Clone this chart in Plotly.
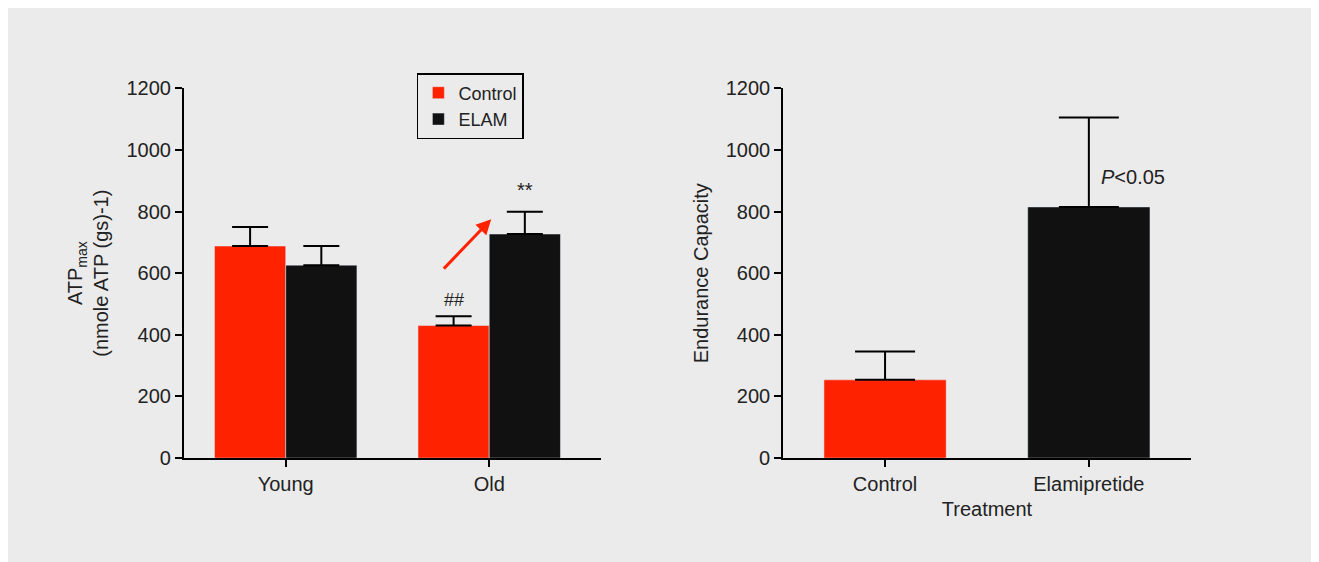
import plotly.graph_objects as go

groups = ["Young", "Old"]
control_atp = [688, 430]
control_atp_err = [62, 30]
elam_atp = [626, 727]
elam_atp_err = [62, 72]

treat = ["Control", "Elamipretide"]
endurance = [254, 815]
endurance_err = [92, 290]
colors = ["#ff2200", "#111111"]

fig = go.Figure()
xs = list(range(len(groups)))
w = 0.35
fig.add_bar(x=[i - w/2 for i in xs], y=control_atp, width=w, name="Control", marker_color=colors[0],
            error_y=dict(type="data", array=control_atp_err, arrayminus=[0]*2, symmetric=False,
                         color="black", thickness=2, width=18),
            xaxis="x", yaxis="y")
fig.add_bar(x=[i + w/2 for i in xs], y=elam_atp, width=w, name="ELAM", marker_color=colors[1],
            error_y=dict(type="data", array=elam_atp_err, arrayminus=[0]*2, symmetric=False,
                         color="black", thickness=2, width=18),
            xaxis="x", yaxis="y")
fig.add_bar(x=list(range(len(treat))), y=endurance, width=0.6, marker_color=colors,
            showlegend=False,
            error_y=dict(type="data", array=endurance_err, arrayminus=[0]*2, symmetric=False,
                         color="black", thickness=2, width=30),
            xaxis="x2", yaxis="y2")

font = dict(family="Liberation Sans, Arial", size=20, color="#222")
ax = dict(showline=True, linecolor="black", linewidth=2, ticks="outside", tickwidth=2,
          ticklen=7, tickcolor="black", showgrid=False, zeroline=False, tickfont=font)
ydom = [0.1868, 0.8718]
fig.update_layout(
    width=1319, height=562, paper_bgcolor="#ebebeb", plot_bgcolor="#ebebeb",
    margin=dict(l=0, r=0, t=0, b=0), barmode="overlay", font=font,
    xaxis=dict(ax, domain=[0.1334, 0.4497], range=[-0.5, 1.55], tickvals=xs, ticktext=groups),
    yaxis=dict(ax, domain=ydom, range=[0, 1200], dtick=200,
               title=dict(text="ATP<sub>max</sub><br>(nmole ATP (gs)-1)", font=font, standoff=12)),
    xaxis2=dict(ax, domain=[0.5877, 0.8967], range=[-0.5, 1.5], tickvals=[0, 1], ticktext=treat,
                title=dict(text="Treatment", font=font, standoff=8)),
    yaxis2=dict(ax, domain=ydom, range=[0, 1200], dtick=200, anchor="x2",
                title=dict(text="Endurance Capacity", font=font, standoff=12)),
    legend=dict(x=0.31, y=0.90, xanchor="left", yanchor="top", bgcolor="#ebebeb",
                bordercolor="black", borderwidth=1.5, font=dict(family="Liberation Sans, Arial", size=18),
                itemwidth=30),
)
fig.add_annotation(x=1 - w/2, y=control_atp[1] + control_atp_err[1] + 15, xref="x", yref="y",
                   text="##", showarrow=False, yanchor="bottom", font=dict(size=18))
fig.add_annotation(x=1 + w/2, y=elam_atp[1] + elam_atp_err[1] + 30, xref="x", yref="y",
                   text="**", showarrow=False, yanchor="bottom", font=dict(size=20))
fig.add_annotation(x=1.01, y=775, ax=0.77, ay=610, xref="x", yref="y", axref="x", ayref="y",
                   text="", showarrow=True, arrowhead=2, arrowsize=1, arrowwidth=3, arrowcolor="#ff2200")
fig.add_annotation(x=1.05, y=913, xref="x2", yref="y2", text="<i>P</i><0.05",
                   showarrow=False, xanchor="left", font=dict(size=20))
fig.write_html("out.html")
